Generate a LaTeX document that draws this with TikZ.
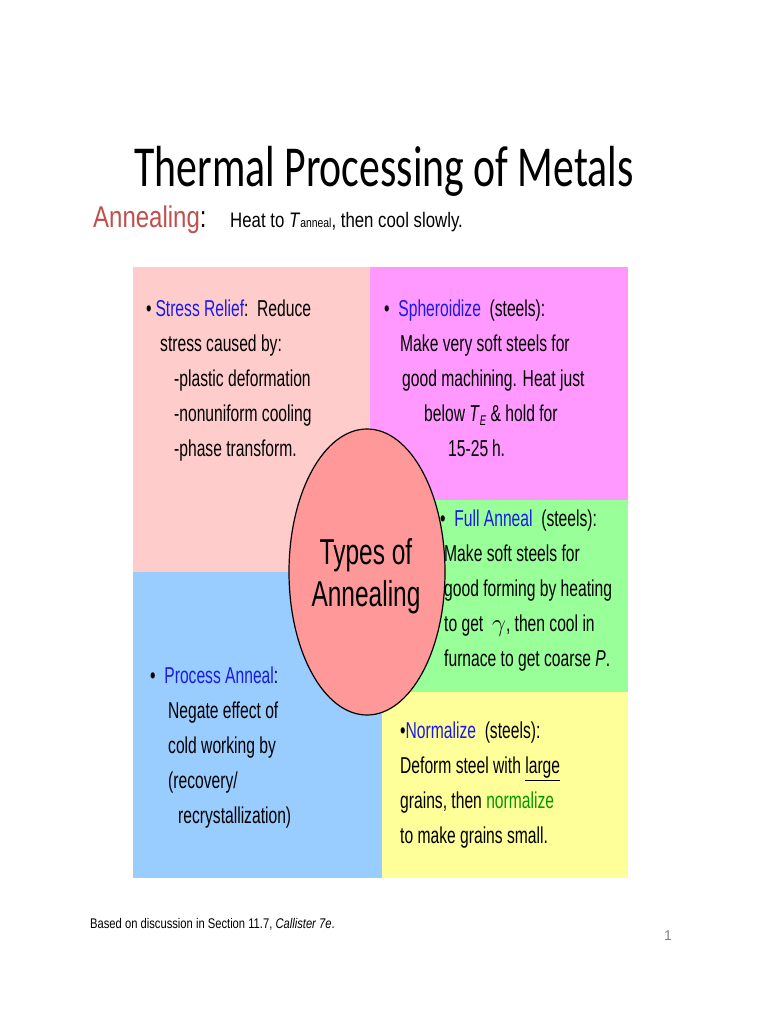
\documentclass[tikz,border=0pt]{standalone}
\usetikzlibrary{shapes.geometric}
\usepackage{fontspec}
\setmainfont{Liberation Sans}
\newfontfamily\narrow[FakeStretch=0.8]{Liberation Sans}
\newfontfamily\narrowb[FakeStretch=0.68]{Liberation Sans}
\newfontfamily\calfont[FakeStretch=0.72]{Carlito}
\definecolor{pinkr}{HTML}{FFCCCC}
\definecolor{mag}{HTML}{FF99FF}
\definecolor{grn}{HTML}{99FF99}
\definecolor{blu}{HTML}{99CCFF}
\definecolor{yel}{HTML}{FFFF99}
\definecolor{circ}{HTML}{FF9999}
\definecolor{bl}{HTML}{1A1AE6}
\definecolor{gr}{HTML}{009900}
\definecolor{redt}{HTML}{C0504D}
\begin{document}
\begin{tikzpicture}[x=1pt,y=-1pt,
  txt/.style={anchor=north west,align=left,font=\narrowb\fontsize{23}{35}\selectfont,inner sep=0pt}]
\useasboundingbox[fill=white] (0,0) rectangle (768,1024);
\fill[pinkr] (133,267) rectangle (370,572);
\fill[mag] (370,267) rectangle (628,500);
\fill[grn] (370,500) rectangle (628,692);
\fill[blu] (133,572) rectangle (382,878);
\fill[yel] (382,692) rectangle (628,878);
\node[draw=black,line width=1.2pt,fill=circ,ellipse,minimum width=156pt,minimum height=286pt,inner sep=0pt] (c) at (367,572) {};
\node[font=\narrowb\fontsize{36}{42}\selectfont,align=center] (ct) at (366,576) {Types of\\Annealing};
\node[anchor=base,font=\calfont\fontsize{58}{60}\selectfont] (title) at (384,187) {Thermal Processing of Metals};
\node[anchor=base west,inner sep=0pt,font=\narrow\fontsize{30}{34}\selectfont,text=redt] (ann) at (93,227) {Annealing{\color{black}:}};
\node[anchor=base west,inner sep=0pt,font=\narrow\fontsize{21}{24}\selectfont] (heat) at (230,227) {Heat to \textit{T}{\fontsize{13}{14}\selectfont anneal}, then cool slowly.};
\node[txt] (t1) at (146,300) {\textbullet\,{\color{bl}Stress Relief}:\ \ Reduce\\
\hspace{14pt}stress caused by:\\
\hspace{28pt}-plastic deformation\\
\hspace{28pt}-nonuniform cooling\\
\hspace{28pt}-phase transform.};
\node[txt] (t2) at (384,300) {\textbullet\ \ {\color{bl}Spheroidize}\ \ (steels):\\
\hspace{16pt}Make very soft steels for\\
\hspace{18pt}good machining. Heat just\\
\hspace{40pt}below \textit{T}{\fontsize{14}{14}\selectfont\raisebox{-4pt}{\textit{E}}} \& hold for\\
\hspace{64pt}15-25\,h.};
\node[txt] (t3) at (440,510) {\textbullet\ \ {\color{bl}Full Anneal}\ \ (steels):\\
\hspace{4pt}Make soft steels for\\
\hspace{4pt}good forming by heating\\
\hspace{4pt}to get\ \ $\gamma$, then cool in\\
\hspace{4pt}furnace to get coarse \textit{P}.};
\node[txt] (t4) at (150,667) {\textbullet\ \ {\color{bl}Process Anneal}:\\
\hspace{18pt}Negate effect of\\
\hspace{18pt}cold working by\\
\hspace{18pt}(recovery/\\
\hspace{28pt}recrystallization)};
\node[txt] (t5) at (400,722) {\textbullet{\color{bl}Normalize}\ \ (steels):\\
Deform steel with \underline{large}\\
grains, then {\color{gr}normalize}\\
to make grains small.};
\node[anchor=base west,inner sep=0pt,font=\narrow\fontsize{14}{16}\selectfont] (fn) at (90,928) {Based on discussion in Section 11.7, \textit{Callister 7e}.};
\node[anchor=base,font=\fontsize{14}{16}\selectfont,text=gray] (pg) at (668,940) {1};
\end{tikzpicture}
\end{document}
